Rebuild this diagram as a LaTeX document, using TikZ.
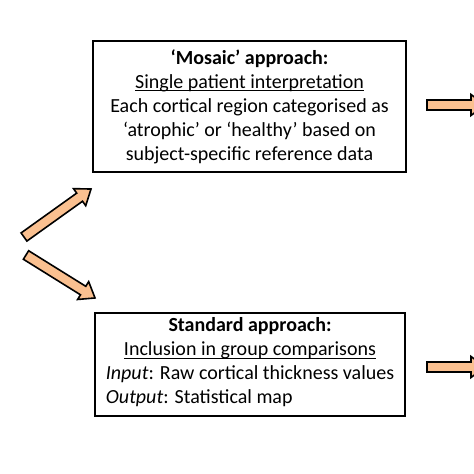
\documentclass[tikz,border=0pt]{standalone}
\usepackage{fontspec}
\setmainfont{Carlito}
\usepackage{tikz}
\usetikzlibrary{calc}
\definecolor{peach}{HTML}{FAC090}
% underline just below the baseline
\newcommand{\lineunder}[1]{\setbox0=\hbox{#1}\rlap{\rule[-2.8pt]{\wd0}{1pt}}\box0}
% block arrow: tail, angle, length
\newcommand{\blockarrow}[3]{%
  \draw[arrowshape, shift={(#1)}, rotate=#2] (0,-5) -- ({#3-14},-5) -- ({#3-14},-10.5)
    -- (#3,0) -- ({#3-14},10.5) -- ({#3-14},5) -- (0,5) -- cycle;}

\begin{document}
\begin{tikzpicture}[x=1pt,y=1pt,
    box/.style={draw, line width=1.2pt, align=center, inner sep=0pt,
      font=\fontsize{20}{24}\selectfont},
    arrowshape/.style={draw, line width=1.6pt, fill=peach, line join=miter}]
    \useasboundingbox (0,0) rectangle (474,474);
    \clip (0,0) rectangle (474,474);
    % Boxes
    \node[box, minimum width=313, minimum height=131] (mosaic) at (249.5,367.5)
      {\textbf{`Mosaic' approach:}\\ \lineunder{Single patient interpretation}\\
       Each cortical region categorised as\\ `atrophic' or `healthy' based on\\
       subject-specific reference data};
    \node[box, minimum width=310, minimum height=103] (standard) at (250,109.5)
      {\textbf{Standard approach:}\\ \lineunder{Inclusion in group comparisons}\\
       \begin{tabular}[t]{@{}l@{}}\emph{Input}: Raw cortical thickness values\\
       \emph{Output}: Statistical map\end{tabular}};
    % Arrow tails
    \coordinate (up) at (24,237);
    \coordinate (down) at (26,219);
    \coordinate (outA) at (427,369);
    \coordinate (outB) at (427,107);
    % Arrows
    \blockarrow{up}{35.6}{82.4}
    \blockarrow{down}{-31.9}{81.3}
    \blockarrow{outA}{0}{58}
    \blockarrow{outB}{0}{58}
\end{tikzpicture}
\end{document}
